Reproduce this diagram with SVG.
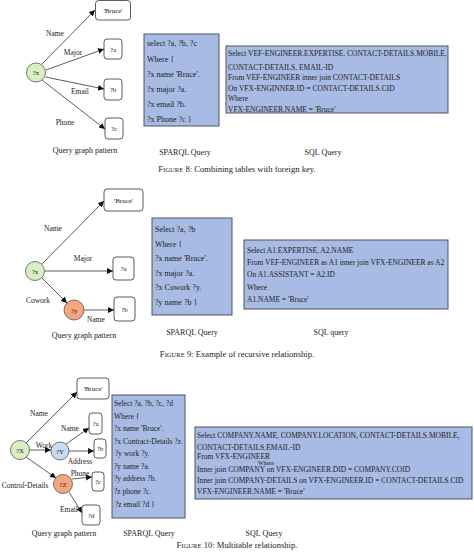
<svg xmlns="http://www.w3.org/2000/svg" width="474" height="556" viewBox="0 0 474 556">
<style>
text{font-family:"Liberation Serif","Times New Roman",serif;fill:#222}
.lbl{font-size:7.5px;text-anchor:middle}
.nt{font-size:7px;text-anchor:middle}
.q{font-size:8px}
.s{font-size:7.5px}
.cap{font-size:8px;text-anchor:middle}
.cp{font-size:8.6px;text-anchor:middle}
.box{fill:#fff;stroke:#333;stroke-width:0.8}
.qb{fill:#a8bbe4;stroke:#4c5262;stroke-width:1}
.g{fill:#d7efc3;stroke:#555;stroke-width:0.8}
.o{fill:#f2a77d;stroke:#555;stroke-width:0.8}
.b{fill:#c7dcf2;stroke:#555;stroke-width:0.8}
.e{stroke:#333;stroke-width:0.8;fill:none;marker-end:url(#ah)}
</style>
<defs>
<marker id="ah" viewBox="0 0 10 10" refX="10" refY="5" markerWidth="6" markerHeight="6" markerUnits="userSpaceOnUse" orient="auto">
<path d="M0,0 L10,5 L0,10 z" fill="#111"/>
</marker>
</defs>

<g id="connectors">
<line class="e" x1="42" y1="64" x2="95" y2="10"/>
<line class="e" x1="46" y1="70" x2="104" y2="49"/>
<line class="e" x1="45.5" y1="77" x2="104" y2="89"/>
<line class="e" x1="42" y1="80" x2="105" y2="129"/>

<line class="e" x1="42" y1="264" x2="104" y2="201"/>
<line class="e" x1="44.5" y1="271" x2="113" y2="271"/>
<line class="e" x1="42" y1="278" x2="67" y2="303"/>
<line class="e" x1="84" y1="310" x2="114" y2="310"/>

<line class="e" x1="26" y1="443" x2="77" y2="392"/>
<line class="e" x1="29.5" y1="450" x2="51" y2="450"/>
<line class="e" x1="26" y1="457" x2="56" y2="478"/>
<line class="e" x1="66" y1="444" x2="89" y2="428"/>
<line class="e" x1="69" y1="451" x2="94" y2="451"/>
<line class="e" x1="72" y1="479" x2="92" y2="477"/>
<line class="e" x1="69" y1="492" x2="82" y2="513"/>
</g>

<!-- Figure 8 -->
<g id="f8-x"><circle class="g" cx="36" cy="72.5" r="9.5"/><text class="nt" x="36" y="75">?x</text></g>
<g id="f8-bruce"><rect class="box" x="95.5" y="0.5" width="35" height="19.5" rx="3"/><text class="nt" x="113" y="12.5">'Bruce'</text></g>
<g id="f8-a"><rect class="box" x="104" y="39" width="18" height="20" rx="3"/><text class="nt" x="113" y="51.5">?a</text></g>
<g id="f8-b"><rect class="box" x="104" y="79" width="18" height="21" rx="3"/><text class="nt" x="113" y="92">?b</text></g>
<g id="f8-c"><rect class="box" x="105" y="118" width="18" height="21" rx="3"/><text class="nt" x="114" y="131">?c</text></g>
<g id="f8-labels">
<text class="lbl" x="55" y="35.5">Name</text>
<text class="lbl" x="73" y="54.5">Major</text>
<text class="lbl" x="80" y="93.5">Email</text>
<text class="lbl" x="65" y="124.5">Phone</text>
<text class="cap" x="85" y="153">Query graph pattern</text>
</g>
<g id="f8-sparql">
<rect class="qb" x="144" y="34" width="75" height="92"/>
<text class="q" x="147" y="45.5">select ?a, ?b, ?c</text>
<text class="q" x="147" y="61.5">Where {</text>
<text class="q" x="147" y="76.5">?x name 'Bruce'.</text>
<text class="q" x="147" y="91.5">?x major ?a.</text>
<text class="q" x="147" y="106.5">?x email ?b.</text>
<text class="q" x="147" y="121.5">?x Phone ?c }</text>
<text class="cap" x="185" y="155">SPARQL Query</text>
</g>
<g id="f8-sql">
<rect class="qb" x="226" y="46" width="222" height="67"/>
<text class="s" x="228" y="56">Select VEF-ENGINEER.EXPERTISE, CONTACT-DETAILS.MOBILE,</text>
<text class="s" x="228" y="69.5">CONTACT-DETAILS, EMAIL-ID</text>
<text class="s" x="228" y="79.5">From VEF-ENGINEER inner join CONTACT-DETAILS</text>
<text class="s" x="228" y="90.5">On VFX-ENGINNER.ID = CONTACT-DETAILS.CID</text>
<text class="s" x="228" y="101">Where</text>
<text class="s" x="228" y="111.5">VFX-ENGINEER.NAME = 'Bruce'</text>
<text class="cap" x="323" y="155">SQL Query</text>
</g>
<text class="cp" x="237" y="172">F<tspan font-size="6.6">IGURE</tspan> 8: Combining tables with foreign key.</text>

<!-- Figure 9 -->
<g id="f9-x"><circle class="g" cx="35" cy="271" r="9.5"/><text class="nt" x="35" y="273.5">?x</text></g>
<g id="f9-bruce"><rect class="box" x="104" y="189" width="39" height="22" rx="3"/><text class="nt" x="123.5" y="202.5">'Bruce'</text></g>
<g id="f9-a"><rect class="box" x="113" y="257" width="21" height="23" rx="3"/><text class="nt" x="123.5" y="271">?a</text></g>
<g id="f9-y"><circle class="o" cx="74" cy="310" r="10"/><text class="nt" x="74" y="312.5">?y</text></g>
<g id="f9-b"><rect class="box" x="114" y="297" width="21" height="24" rx="3"/><text class="nt" x="124.5" y="311.5">?b</text></g>
<g id="f9-labels">
<text class="lbl" x="53" y="230.5">Name</text>
<text class="lbl" x="83" y="260.5">Major</text>
<text class="lbl" x="38" y="302.5">Cowork</text>
<text class="lbl" x="96" y="321.5">Name</text>
<text class="cap" x="84" y="338">Query graph pattern</text>
</g>
<g id="f9-sparql">
<rect class="qb" x="152" y="218" width="80" height="97"/>
<text class="q" x="155" y="231.5">Select ?a, ?b</text>
<text class="q" x="155" y="246.5">Where {</text>
<text class="q" x="155" y="260.5">?x name 'Bruce'.</text>
<text class="q" x="155" y="275.5">?x major ?a.</text>
<text class="q" x="155" y="289.5">?x Cowork ?y.</text>
<text class="q" x="155" y="304.5">?y name ?b }</text>
<text class="cap" x="192" y="335">SPARQL Query</text>
</g>
<g id="f9-sql">
<rect class="qb" x="244" y="240" width="204" height="69"/>
<text class="s" x="247" y="252.5">Select A1.EXPERTISE, A2.NAME</text>
<text class="s" x="247" y="264.5">From VEF-ENGINEER as A1 inner join VFX-ENGINEER as A2</text>
<text class="s" x="247" y="276.5">On A1.ASSISTANT = A2.ID</text>
<text class="s" x="247" y="289.5">Where</text>
<text class="s" x="247" y="301.5">A1.NAME = 'Bruce'</text>
<text class="cap" x="331" y="335">SQL query</text>
</g>
<text class="cp" x="237" y="357">F<tspan font-size="6.6">IGURE</tspan> 9: Example of recursive relationship.</text>

<!-- Figure 10 -->
<g id="f10-X"><circle class="g" cx="20" cy="450" r="9.5"/><text class="nt" x="20" y="452.5">?X</text></g>
<g id="f10-bruce"><rect class="box" x="77" y="378" width="32" height="21" rx="3"/><text class="nt" x="93" y="391">'Bruce'</text></g>
<g id="f10-Y"><circle class="b" cx="60" cy="451" r="9"/><text class="nt" x="60" y="453.5">?Y</text></g>
<g id="f10-a"><rect class="box" x="89" y="413" width="13" height="21" rx="3"/><text class="nt" x="95.5" y="426">?a</text></g>
<g id="f10-b"><rect class="box" x="94" y="439" width="12" height="19" rx="3"/><text class="nt" x="100" y="451">?b</text></g>
<g id="f10-Z"><circle class="o" cx="63" cy="484" r="9.5"/><text class="nt" x="63" y="486.5">?Z</text></g>
<g id="f10-c"><rect class="box" x="92" y="472" width="12" height="19" rx="3"/><text class="nt" x="98" y="484">?c</text></g>
<g id="f10-d"><rect class="box" x="82" y="505" width="18" height="20" rx="3"/><text class="nt" x="91" y="517.5">?d</text></g>
<g id="f10-labels">
<text class="lbl" x="39" y="415.5">Name</text>
<text class="lbl" x="70" y="430.5">Name</text>
<text class="lbl" x="44" y="447.5">Work</text>
<text class="lbl" x="80" y="463.5">Address</text>
<text class="lbl" x="80" y="475.5">Phone</text>
<text class="lbl" x="25" y="487.5">Control-Details</text>
<text class="lbl" x="69" y="511.5">Email</text>
<text class="cap" x="64" y="536">Query graph pattern</text>
</g>
<g id="f10-sparql">
<rect class="qb" x="112" y="395" width="73" height="123"/>
<text class="s" x="114" y="405.5">Select ?a, ?b, ?c, ?d</text>
<text class="s" x="114" y="418.5">Where {</text>
<text class="s" x="114" y="431">?x name 'Bruce'.</text>
<text class="s" x="114" y="443.5">?x Contract-Details ?z.</text>
<text class="s" x="115" y="456">?y work ?y.</text>
<text class="s" x="114" y="468.5">?y name ?a.</text>
<text class="s" x="114" y="481">?y address ?b.</text>
<text class="s" x="114" y="493.5">?z phone ?c.</text>
<text class="s" x="115" y="506.5">?z email ?d }</text>
<text class="cap" x="149" y="536">SPARQL Query</text>
</g>
<g id="f10-sql">
<rect class="qb" x="195" y="427" width="277" height="72"/>
<text class="s" x="197" y="437.5">Select COMPANY.NAME, COMPANY.LOCATION, CONTACT-DETAILS.MOBILE,</text>
<text class="s" x="197" y="449.5">CONTACT-DETAILS.EMAIL-ID</text>
<text class="s" x="197" y="459">From VFX-ENGINEER</text>
<text x="266" y="465" font-size="6" text-anchor="middle">Where</text>
<text class="s" x="197" y="471.5">Inner join COMPANY on VFX-ENGINEER.DID = COMPANY.COID</text>
<text class="s" x="197" y="483">Inner join COMPANY-DETAILS on VFX-ENGINEER.ID = CONTACT-DETAILS.CID</text>
<text class="s" x="197" y="494">VFX-ENGINEER.NAME = 'Bruce'</text>
<text class="cap" x="264" y="536">SQL Query</text>
</g>
<text class="cp" x="237" y="547.5">F<tspan font-size="6.6">IGURE</tspan> 10: Multitable relationship.</text>
</svg>
